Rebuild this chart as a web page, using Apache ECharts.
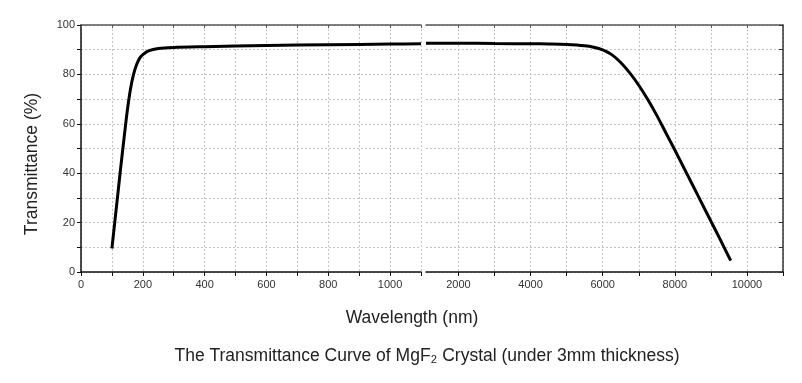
<!DOCTYPE html>
<html>
<head>
<meta charset="utf-8">
<script src="https://cdn.jsdelivr.net/npm/echarts@6/dist/echarts.min.js"></script>
<style>html,body{margin:0;padding:0;background:#fff;}#c{width:802px;height:383px;}</style>
</head>
<body>
<div id="c"></div>
<script>
// UV/visible segment (nm, %)
const uvWavelength = [100, 110, 120, 130, 140, 150, 160, 170, 180, 190, 200, 220, 250, 300, 400, 600, 800, 1000, 1100];
const uvTransmittance = [9.5, 21, 32.5, 44, 55, 65.5, 74, 80, 84, 86.6, 88, 89.6, 90.5, 90.9, 91.2, 91.7, 92.0, 92.3, 92.4];
// IR segment (nm, %)
const irWavelength = [1100, 2000, 3000, 4000, 4500, 5000, 5500, 5750, 6000, 6250, 6500, 6750, 7000, 7250, 7500, 7750, 8000, 8250, 8500, 8750, 9000, 9250, 9550];
const irTransmittance = [92.6, 92.6, 92.5, 92.4, 92.3, 92.1, 91.6, 91.0, 89.9, 88.0, 84.8, 80.6, 75.6, 69.8, 63.4, 56.4, 49.4, 42.2, 35.0, 27.8, 20.6, 13.4, 4.6];
// tick labels
const uvTickLabels = [0, 200, 400, 600, 800, 1000];
const irTickValues = [2000, 3000, 4000, 5000, 6000, 7000, 8000, 9000, 10000, 11000];
const irTickLabels = [2000, 4000, 6000, 8000, 10000];
const yTickLabels = [0, 20, 40, 60, 80, 100];

const chart = echarts.init(document.getElementById('c'), null, {renderer: 'canvas'});
const dotted = {show: true, lineStyle: {color: '#c4c4c4', type: [2, 2], width: 1}};
const labelStyle = {color: '#333', fontSize: 11, fontFamily: 'Liberation Sans, Arial, sans-serif'};
const txt = '#222';
const font = '17.5px "Liberation Sans", Arial, sans-serif';

chart.setOption({
  animation: false,
  backgroundColor: '#fff',
  grid: [
    {left: 81, top: 25, width: 340, height: 247, containLabel: false},
    {left: 426, top: 25, width: 357, height: 247, containLabel: false}
  ],
  xAxis: [
    {type: 'value', gridIndex: 0, position: 'bottom', min: 0, max: 1100, interval: 100,
     axisLine: {show: true, onZero: false, lineStyle: {color: '#111', width: 1.5}},
     axisTick: {show: true, inside: false, length: 4, lineStyle: {color: '#111'}},
     axisLabel: Object.assign({margin: 7, formatter: v => uvTickLabels.indexOf(v) >= 0 ? String(v) : ''}, labelStyle),
     splitLine: dotted},
    {type: 'value', gridIndex: 0, position: 'top', min: 0, max: 1100, interval: 100,
     axisLine: {show: true, onZero: false, lineStyle: {color: '#555', width: 1.5}},
     axisTick: {show: true, inside: true, length: 3, lineStyle: {color: '#555'}},
     axisLabel: {show: false}, splitLine: {show: false}},
    {type: 'value', gridIndex: 1, position: 'bottom', min: 1100, max: 11000,
     axisLine: {show: true, onZero: false, lineStyle: {color: '#111', width: 1.5}},
     axisTick: {show: true, inside: false, length: 4, customValues: irTickValues, lineStyle: {color: '#111'}},
     axisLabel: Object.assign({margin: 7, customValues: irTickLabels, formatter: v => String(v)}, labelStyle),
     splitLine: dotted},
    {type: 'value', gridIndex: 1, position: 'top', min: 1100, max: 11000,
     axisLine: {show: true, onZero: false, lineStyle: {color: '#555', width: 1.5}},
     axisTick: {show: true, inside: true, length: 3, customValues: irTickValues, lineStyle: {color: '#555'}},
     axisLabel: {show: false}, splitLine: {show: false}}
  ],
  yAxis: [
    {type: 'value', gridIndex: 0, position: 'left', min: 0, max: 100, interval: 10,
     axisLine: {show: true, onZero: false, lineStyle: {color: '#111', width: 1.5}},
     axisTick: {show: true, inside: false, length: 4, lineStyle: {color: '#111'}},
     axisLabel: Object.assign({margin: 6, formatter: v => yTickLabels.indexOf(v) >= 0 ? String(v) : ''}, labelStyle),
     splitLine: dotted},
    {type: 'value', gridIndex: 1, position: 'right', min: 0, max: 100, interval: 10,
     axisLine: {show: true, onZero: false, lineStyle: {color: '#333', width: 1.5}},
     axisTick: {show: true, inside: true, length: 4, lineStyle: {color: '#333'}},
     axisLabel: {show: false},
     splitLine: dotted}
  ],
  graphic: [
    {type: 'text', x: 32, y: 164, rotation: Math.PI / 2,
     style: {text: 'Transmittance (%)', fill: txt, font: font, textAlign: 'center', textVerticalAlign: 'middle'}},
    {type: 'text', x: 412, y: 318,
     style: {text: 'Wavelength (nm)', fill: txt, font: font, textAlign: 'center', textVerticalAlign: 'middle'}},
    {type: 'text', x: 427, y: 356,
     style: {text: 'The Transmittance Curve of MgF\u2082 Crystal (under 3mm thickness)', fill: txt, font: font, textAlign: 'center', textVerticalAlign: 'middle'}}
  ],
  series: [
    {type: 'line', xAxisIndex: 0, yAxisIndex: 0, smooth: 0.3, showSymbol: false,
     lineStyle: {color: '#000', width: 3}, data: uvWavelength.map((x, i) => [x, uvTransmittance[i]])},
    {type: 'line', xAxisIndex: 2, yAxisIndex: 1, smooth: 0.3, showSymbol: false,
     lineStyle: {color: '#000', width: 3}, data: irWavelength.map((x, i) => [x, irTransmittance[i]])}
  ]
});
</script>
</body>
</html>
